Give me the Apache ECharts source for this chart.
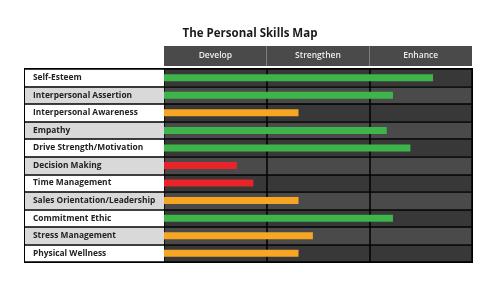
<!DOCTYPE html>
<html>
<head>
<meta charset="utf-8">
<script src="https://cdn.jsdelivr.net/npm/echarts@6/dist/echarts.min.js"></script>
<style>
  html, body { margin: 0; padding: 0; background: #fff; }
  #chart { width: 500px; height: 297px; }
</style>
</head>
<body>
<div id="chart"></div>
<script>
const skills = [
  'Self-Esteem', 'Interpersonal Assertion', 'Interpersonal Awareness', 'Empathy',
  'Drive Strength/Motivation', 'Decision Making', 'Time Management',
  'Sales Orientation/Leadership', 'Commitment Ethic', 'Stress Management', 'Physical Wellness'
];
const scores = [2.62, 2.23, 1.31, 2.17, 2.40, 0.71, 0.87, 1.31, 2.23, 1.45, 1.31];
const levels = ['Develop', 'Strengthen', 'Enhance'];

const FONT = 'Open Sans';

function barColor(v) {
  if (v < 1) return '#e8232a';
  if (v < 2) return '#f6a623';
  return '#3db54a';
}

const chart = echarts.init(document.getElementById('chart'));

chart.setOption({
  animation: false,
  textStyle: { fontFamily: FONT },
  title: {
    text: 'The Personal Skills Map',
    left: 'center',
    top: 23,
    textStyle: { fontSize: 11.5, fontWeight: 'bold', color: '#1a1a1a', fontFamily: FONT }
  },
  grid: [
    // label column
    { left: 25, top: 69, width: 139, height: 193, show: true, borderColor: '#000', borderWidth: 2, backgroundColor: 'transparent' },
    // bars
    { left: 164, top: 69, width: 308, height: 193, show: true, borderColor: '#000', borderWidth: 2, backgroundColor: 'transparent' },
    // header band
    { left: 164, top: 46, width: 308, height: 20 }
  ],
  xAxis: [
    { type: 'value', gridIndex: 0, min: 0, max: 1, show: false },
    {
      type: 'value', gridIndex: 1, min: 0, max: 3, interval: 1,
      axisLine: { show: false }, axisTick: { show: false }, axisLabel: { show: false },
      splitLine: { show: true, lineStyle: { color: '#000', width: 1.5 } }
    },
    {
      type: 'category', gridIndex: 2, data: levels, position: 'bottom',
      axisLine: { show: false }, axisTick: { show: false },
      axisLabel: { inside: true, margin: 10, verticalAlign: 'middle', color: '#ededed', fontSize: 8.5, fontWeight: 600, fontFamily: FONT },
      splitArea: { show: true, areaStyle: { color: ['#4a4a4a'] } },
      splitLine: { show: true, showMinLine: false, showMaxLine: false, lineStyle: { color: '#7d7d7d', width: 1 } }
    }
  ],
  yAxis: [
    {
      type: 'category', gridIndex: 0, data: skills, inverse: true,
      axisLine: { show: false }, axisTick: { show: false },
      axisLabel: { inside: true, margin: 8, color: '#222', fontWeight: 'bold', fontSize: 8.4, fontFamily: FONT },
      splitArea: { show: true, areaStyle: { color: ['#ffffff', '#d9d9d9'] } },
      splitLine: { show: true, lineStyle: { color: '#000', width: 1.5 } },
      z: 3
    },
    {
      type: 'category', gridIndex: 1, data: skills, inverse: true,
      axisLine: { show: false }, axisTick: { show: false }, axisLabel: { show: false },
      splitArea: { show: true, areaStyle: { color: ['#383838', '#4a4a4a'] } },
      splitLine: { show: true, lineStyle: { color: '#000', width: 1.5 } }
    },
    { type: 'value', gridIndex: 2, show: false, min: 0, max: 1 }
  ],
  series: [
    {
      type: 'bar',
      xAxisIndex: 1,
      yAxisIndex: 1,
      data: scores,
      barWidth: 7,
      z: 3,
      itemStyle: { color: p => barColor(p.value) }
    }
  ]
});
</script>
</body>
</html>
